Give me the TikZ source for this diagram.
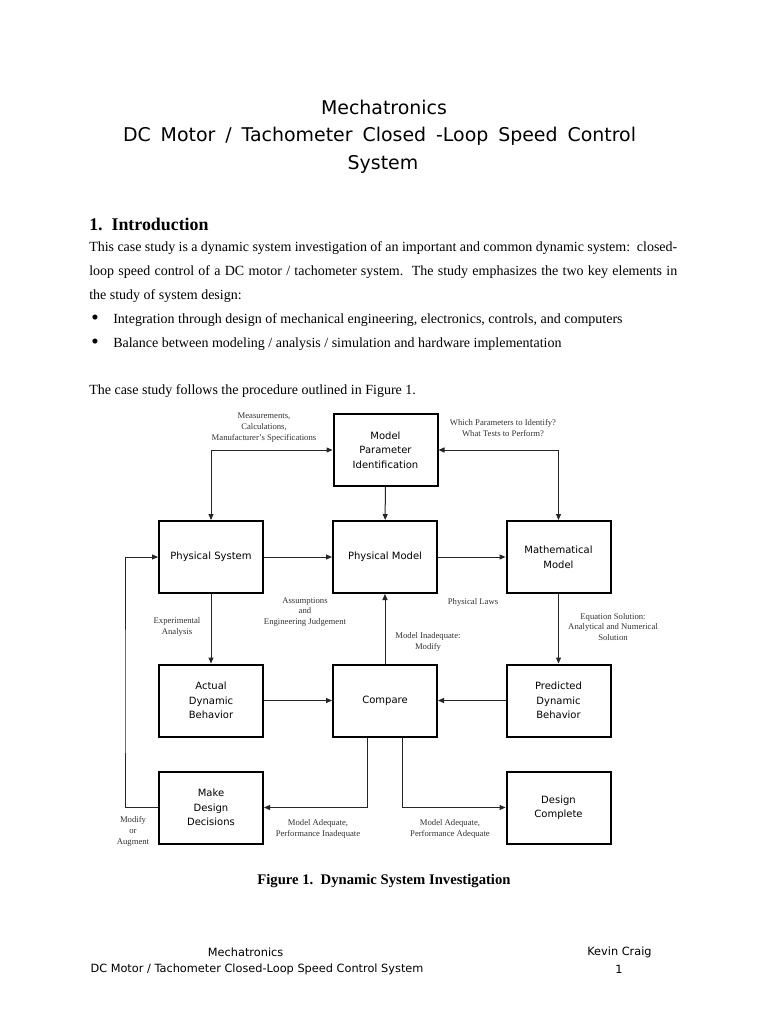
\documentclass[tikz,border=0pt]{standalone}
\usepackage{fontspec}
\setmainfont{Liberation Serif}
\newfontfamily\comic{DejaVu Sans}
\usetikzlibrary{arrows.meta}
\newlength\pxu
\setlength\pxu{0.75pt}
\begin{document}
\begin{tikzpicture}[x=0.75pt,y=-0.75pt,
  blk/.style={draw, line width=1.5pt, minimum width=78pt, minimum height=54pt, inner sep=0pt, align=center,
    font=\comic\fontsize{7.5}{10.9}\selectfont},
  lbl/.style={align=center, inner sep=0pt, text=black!80, font=\fontsize{6.5}{8.2}\selectfont},
  conn/.style={line width=0.75pt, draw=black!85},
  tip/.style={-{Triangle[length=4.5pt,width=3.8pt]}},
  tips/.style={{Triangle[length=4.5pt,width=3.8pt]}-{Triangle[length=4.5pt,width=3.8pt]}},
  ttl/.style={inner sep=0pt, font=\comic\fontsize{14.2}{16}\selectfont},
  body/.style={inner sep=0pt, anchor=base west, font=\fontsize{10.5}{12}\selectfont},
  foot/.style={inner sep=0pt, font=\comic\fontsize{8.5}{10}\selectfont}
]
\fill[white] (0,0) rectangle (768,1024);
\useasboundingbox (0,0) rectangle (768,1024);

% title
\node[ttl] (t1) at (384,107) {Mechatronics};
\node[ttl] (t2) at (379.5,136) {\makebox[513\pxu][s]{DC Motor / Tachometer Closed -Loop Speed Control}};
\node[ttl] (t3) at (383,164) {System};

% introduction
\node[body, font=\bfseries\fontsize{13.4}{15}\selectfont] (h1) at (89,230) {1.\hspace{0.5em}Introduction};
\node[body] (l1) at (89,251) {\makebox[588\pxu][s]{This case study is a dynamic system investigation of an important and common dynamic system:\ \ closed-}};
\node[body] (l2) at (89,275) {\makebox[588\pxu][s]{loop speed control of a DC motor / tachometer system.\ \ The study emphasizes the two key elements in}};
\node[body] (l3) at (89,299) {the study of system design:};
\node[body] (b1) at (91,324) {\scalebox{1.5}{•}};
\node[body] (l4) at (113,323) {Integration through design of mechanical engineering, electronics, controls, and computers};
\node[body] (b2) at (91,348) {\scalebox{1.5}{•}};
\node[body] (l5) at (113,347) {Balance between modeling / analysis / simulation and hardware implementation};
\node[body] (l6) at (89,394) {The case study follows the procedure outlined in Figure 1.};

% blocks
\node[blk] (mpi) at (385.5,450) {Model\\Parameter\\Identification};
\node[blk] (ps) at (211,557) {Physical System};
\node[blk] (pm) at (385,557) {Physical Model};
\node[blk] (mm) at (558.5,557) {Mathematical\\Model};
\node[blk] (adb) at (211,700.5) {Actual\\Dynamic\\Behavior};
\node[blk] (cmp) at (385,700.5) {Compare};
\node[blk] (pdb) at (558.5,700.5) {Predicted\\Dynamic\\Behavior};
\node[blk] (mdd) at (211,807.5) {Make\\Design\\Decisions};
\node[blk] (dc) at (558.5,807.5) {Design\\Complete};
\coordinate (fb) at (125,700);

% connectors
\draw[conn,tips] (ps.north) |- (mpi.west);
\draw[conn,tips] (mm.north) |- (mpi.east);
\draw[conn,tip] (mpi) -- (pm);
\draw[conn,tip] (ps) -- (pm);
\draw[conn,tip] (pm) -- (mm);
\draw[conn,tip] (ps) -- (adb);
\draw[conn,tip] (mm) -- (pdb);
\draw[conn,tip] (cmp) -- (pm);
\draw[conn,tip] (adb) -- (cmp);
\draw[conn,tip] (pdb) -- (cmp);
\draw[conn,tip] ([xshift=-13.1pt]cmp.south) |- (mdd.east);
\draw[conn,tip] ([xshift=13.1pt]cmp.south) |- (dc.west);
\draw[conn,tip] (mdd.west) -| (fb) |- (ps.west);

% labels
\node[lbl] (a1) at (264,428) {Measurements,\\Calculations,\\Manufacturer's Specifications};
\node[lbl] (a2) at (503,428) {Which Parameters to Identify?\\What Tests to Perform?};
\node[lbl] (a3) at (305,612) {Assumptions\\and\\Engineering Judgement};
\node[lbl] (a4) at (473,602) {Physical Laws};
\node[lbl] (a5) at (177,627) {Experimental\\Analysis};
\node[lbl] (a6) at (428,642) {Model Inadequate:\\Modify};
\node[lbl] (a7) at (613,627) {Equation Solution:\\Analytical and Numerical\\Solution};
\node[lbl] (a8) at (133,831) {Modify\\or\\Augment};
\node[lbl] (a9) at (318,829) {Model Adequate,\\Performance Inadequate};
\node[lbl] (a10) at (450,829) {Model Adequate,\\Performance Adequate};

% caption
\node[inner sep=0pt, font=\bfseries\fontsize{11}{13}\selectfont] (cap) at (384,881) {Figure 1.\ \ Dynamic System Investigation};

% footer
\node[foot] (f1) at (245.6,952) {Mechatronics};
\node[foot] (f2) at (257,969) {DC Motor / Tachometer Closed-Loop Speed Control System};
\node[foot] (f3) at (619.5,952) {Kevin Craig};
\node[foot] (f4) at (619,969) {1};
\end{tikzpicture}
\end{document}
